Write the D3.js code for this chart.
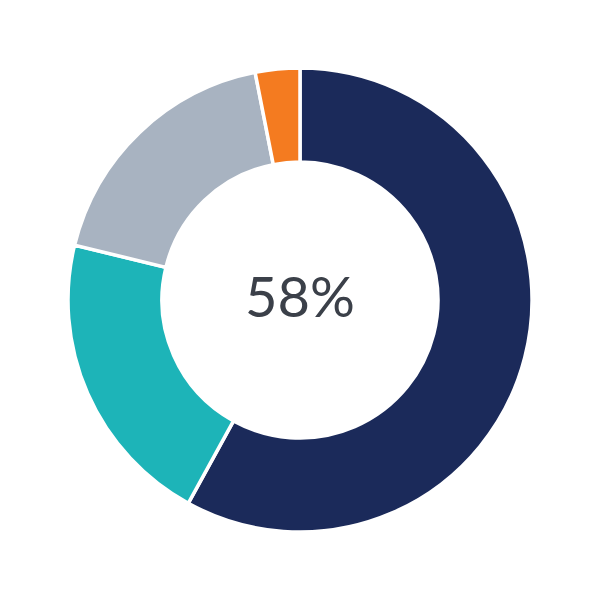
<!DOCTYPE html>
<html>
<head>
<meta charset="utf-8">
<script src="https://cdn.jsdelivr.net/npm/d3@7"></script>
<style>
body { margin: 0; background: #fff; }
</style>
</head>
<body>
<div id="chart"></div>
<script>
var categories = ["A", "B", "C", "D"];
var values = [58, 20.8, 18.1, 3.1];
var colors = ["#1b2a5a", "#1db4b8", "#a8b3c1", "#f47b20"];
var centerLabel = "58%";

const width = 600
const height = 600
var outerR = 232, innerR = 138;

var svg = d3.select("div#chart")
	.append("svg")
	.attr("width", width)
	.attr("height", height)

var g = svg.append("g")
	.attr("transform", "translate(" + width / 2 + " " + height / 2 + ")")

var pie = d3.pie().sort(null).value(d => d)
var arc = d3.arc().innerRadius(innerR).outerRadius(outerR)

g.selectAll("path.slice")
	.data(pie(values))
	.enter().append("path")
	.attr("class", "slice")
	.attr("d", arc)
	.style("fill", (d, i) => colors[i])
	.style("stroke", "white")
	.style("stroke-width", "3.5px")

g.append("text")
	.attr("x", 0)
	.attr("y", 17)
	.attr("text-anchor", "middle")
	.style("font-family", "Lato, sans-serif")
	.style("font-size", "56px")
	.style("fill", "#3b4049")
	.text(centerLabel)
</script>
</body>
</html>
